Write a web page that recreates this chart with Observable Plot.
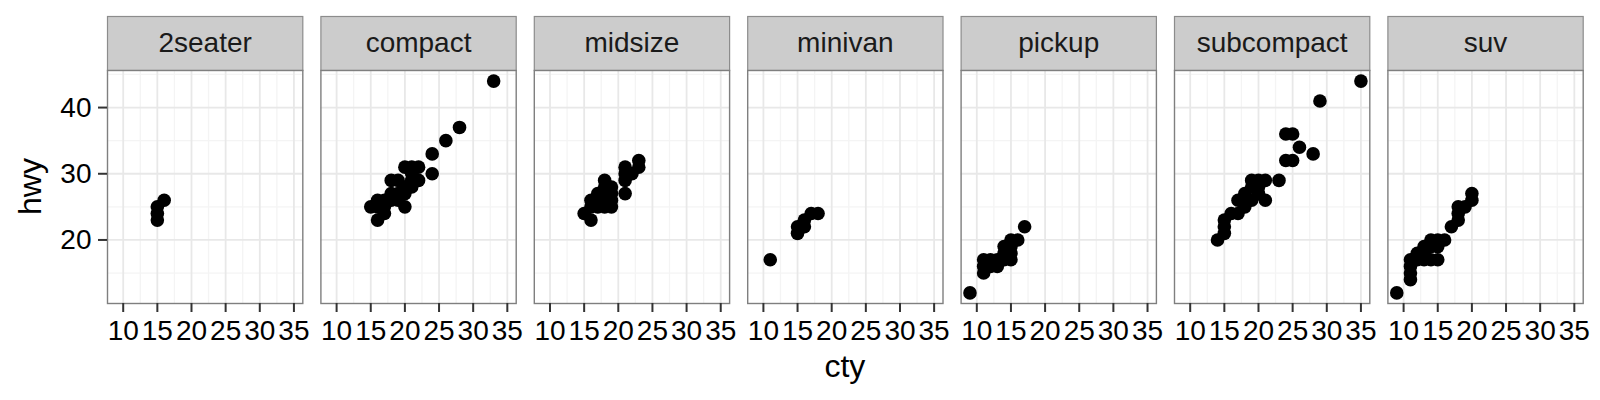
<!DOCTYPE html>
<html>
<head>
<meta charset="utf-8">
<script src="https://cdn.jsdelivr.net/npm/d3@7"></script>
<script src="https://cdn.jsdelivr.net/npm/@observablehq/plot@0.6"></script>
<style>
  html, body { margin: 0; padding: 0; background: #fff; }
  #chart svg { display: block; }
</style>
</head>
<body>
<div id="chart"></div>
<script>
// ---- data (cty, hwy) per vehicle class ----
const classes = ["2seater", "compact", "midsize", "minivan", "pickup", "subcompact", "suv"];

const seater2 = [[15,23],[15,24],[15,25],[16,26]];
const compact = [[15,25],[16,23],[16,25],[16,26],[17,24],[17,25],[17,26],[18,26],[18,27],[18,29],
  [19,26],[19,27],[19,29],[20,25],[20,27],[20,28],[20,31],[21,28],[21,29],[21,30],[21,31],
  [22,29],[22,31],[24,30],[24,33],[26,35],[28,37],[33,44]];
const midsize = [[15,24],[16,23],[16,25],[16,26],[17,25],[17,26],[17,27],[18,25],[18,26],[18,27],
  [18,28],[18,29],[19,25],[19,26],[19,27],[19,28],[21,27],[21,29],[21,30],[21,31],[22,30],
  [23,31],[23,32]];
const minivan = [[11,17],[15,21],[15,22],[16,22],[16,23],[17,24],[18,24]];
const pickup = [[9,12],[11,15],[11,16],[11,17],[12,16],[12,17],[13,16],[13,17],[14,17],[14,18],
  [14,19],[15,17],[15,18],[15,19],[15,20],[16,20],[17,22]];
const subcompact = [[14,20],[15,21],[15,22],[15,23],[16,24],[17,24],[17,26],[18,25],[18,26],[18,27],
  [19,26],[19,28],[19,29],[20,27],[20,28],[20,29],[21,26],[21,29],[23,29],[24,32],[25,32],
  [24,36],[25,36],[26,34],[28,33],[29,41],[35,44]];
const suv = [[9,12],[11,14],[11,15],[11,16],[11,17],[12,17],[12,18],[13,17],[13,18],[13,19],
  [14,17],[14,19],[14,20],[15,17],[15,19],[15,20],[16,20],[17,22],[18,23],[18,24],[18,25],
  [19,25],[20,26],[20,27]];

const xTicks = [10, 15, 20, 25, 30, 35];
const xMinor = [12.5, 17.5, 22.5, 27.5, 32.5];
const yTicks = [20, 30, 40];
const yMinor = [15, 25, 35, 45];
const xTitle = "cty";
const yTitle = "hwy";

// ---- build table ----
const byClass = {"2seater": seater2, compact, midsize, minivan, pickup, subcompact, suv};
const rows = classes.flatMap(c => byClass[c].map(([cty, hwy]) => ({cls: c, cty, hwy})));

const W = 1600, H = 400;
const mL = 107, mR = 17.3, mT = 70, mB = 97;
const stripH = 54;
const font = "'Liberation Sans', Arial, Helvetica, sans-serif";

const chart = Plot.plot({
  width: W,
  height: H,
  marginLeft: mL,
  marginRight: mR,
  marginTop: mT,
  marginBottom: mB,
  style: {fontFamily: font, background: "#fff", overflow: "visible"},
  fx: {domain: classes, paddingInner: 0.0848, paddingOuter: 0, round: false, axis: null, label: null},
  x: {domain: [7.7, 36.3], label: null},
  y: {domain: [10.4, 45.6], label: null},
  marks: [
    // strip background
    Plot.frame({fill: "#cccccc", stroke: "#8c8c8c", strokeWidth: 1.2,
      insetTop: -stripH, insetBottom: H - mT - mB}),
    // panel background
    Plot.frame({fill: "#ffffff"}),
    // grid
    Plot.gridX(xMinor, {stroke: "#f4f4f4", strokeOpacity: 1, strokeWidth: 1.3}),
    Plot.gridY(yMinor, {stroke: "#f4f4f4", strokeOpacity: 1, strokeWidth: 1.3}),
    Plot.gridX(xTicks, {stroke: "#e8e8e8", strokeOpacity: 1, strokeWidth: 1.8}),
    Plot.gridY(yTicks, {stroke: "#e8e8e8", strokeOpacity: 1, strokeWidth: 1.8}),
    // points
    Plot.dot(rows, {fx: "cls", x: "cty", y: "hwy", r: 6.8, fill: "#000", stroke: null}),
    // panel border
    Plot.frame({stroke: "#7f7f7f", strokeWidth: 1.4}),
    // axes
    Plot.axisX(xTicks, {tickSize: 9, tickPadding: 8, fontSize: 28, stroke: "#333", strokeWidth: 2,
      fill: "#000", label: null}),
    Plot.axisY(yTicks, {tickSize: 9, tickPadding: 7, fontSize: 28, stroke: "#333", strokeWidth: 2,
      fill: "#000", label: null}),
    // strip labels
    Plot.text(classes, {fx: d => d, text: d => d, frameAnchor: "top", dy: -stripH / 2,
      fontSize: 28, lineAnchor: "middle", fill: "#1a1a1a"})
  ]
});

document.getElementById("chart").appendChild(chart);

// axis titles (once for the whole figure)
const svg = d3.select(chart.tagName.toLowerCase() === "svg" ? chart : chart.querySelector("svg"));
svg.append("text")
  .attr("x", mL + (W - mL - mR) / 2)
  .attr("y", 377)
  .attr("text-anchor", "middle")
  .attr("font-family", font)
  .attr("font-size", 32)
  .attr("fill", "#000")
  .text(xTitle);
svg.append("text")
  .attr("transform", `translate(41,${mT + (H - mT - mB) / 2}) rotate(-90)`)
  .attr("text-anchor", "middle")
  .attr("font-family", font)
  .attr("font-size", 32)
  .attr("fill", "#000")
  .text(yTitle);
</script>
</body>
</html>
